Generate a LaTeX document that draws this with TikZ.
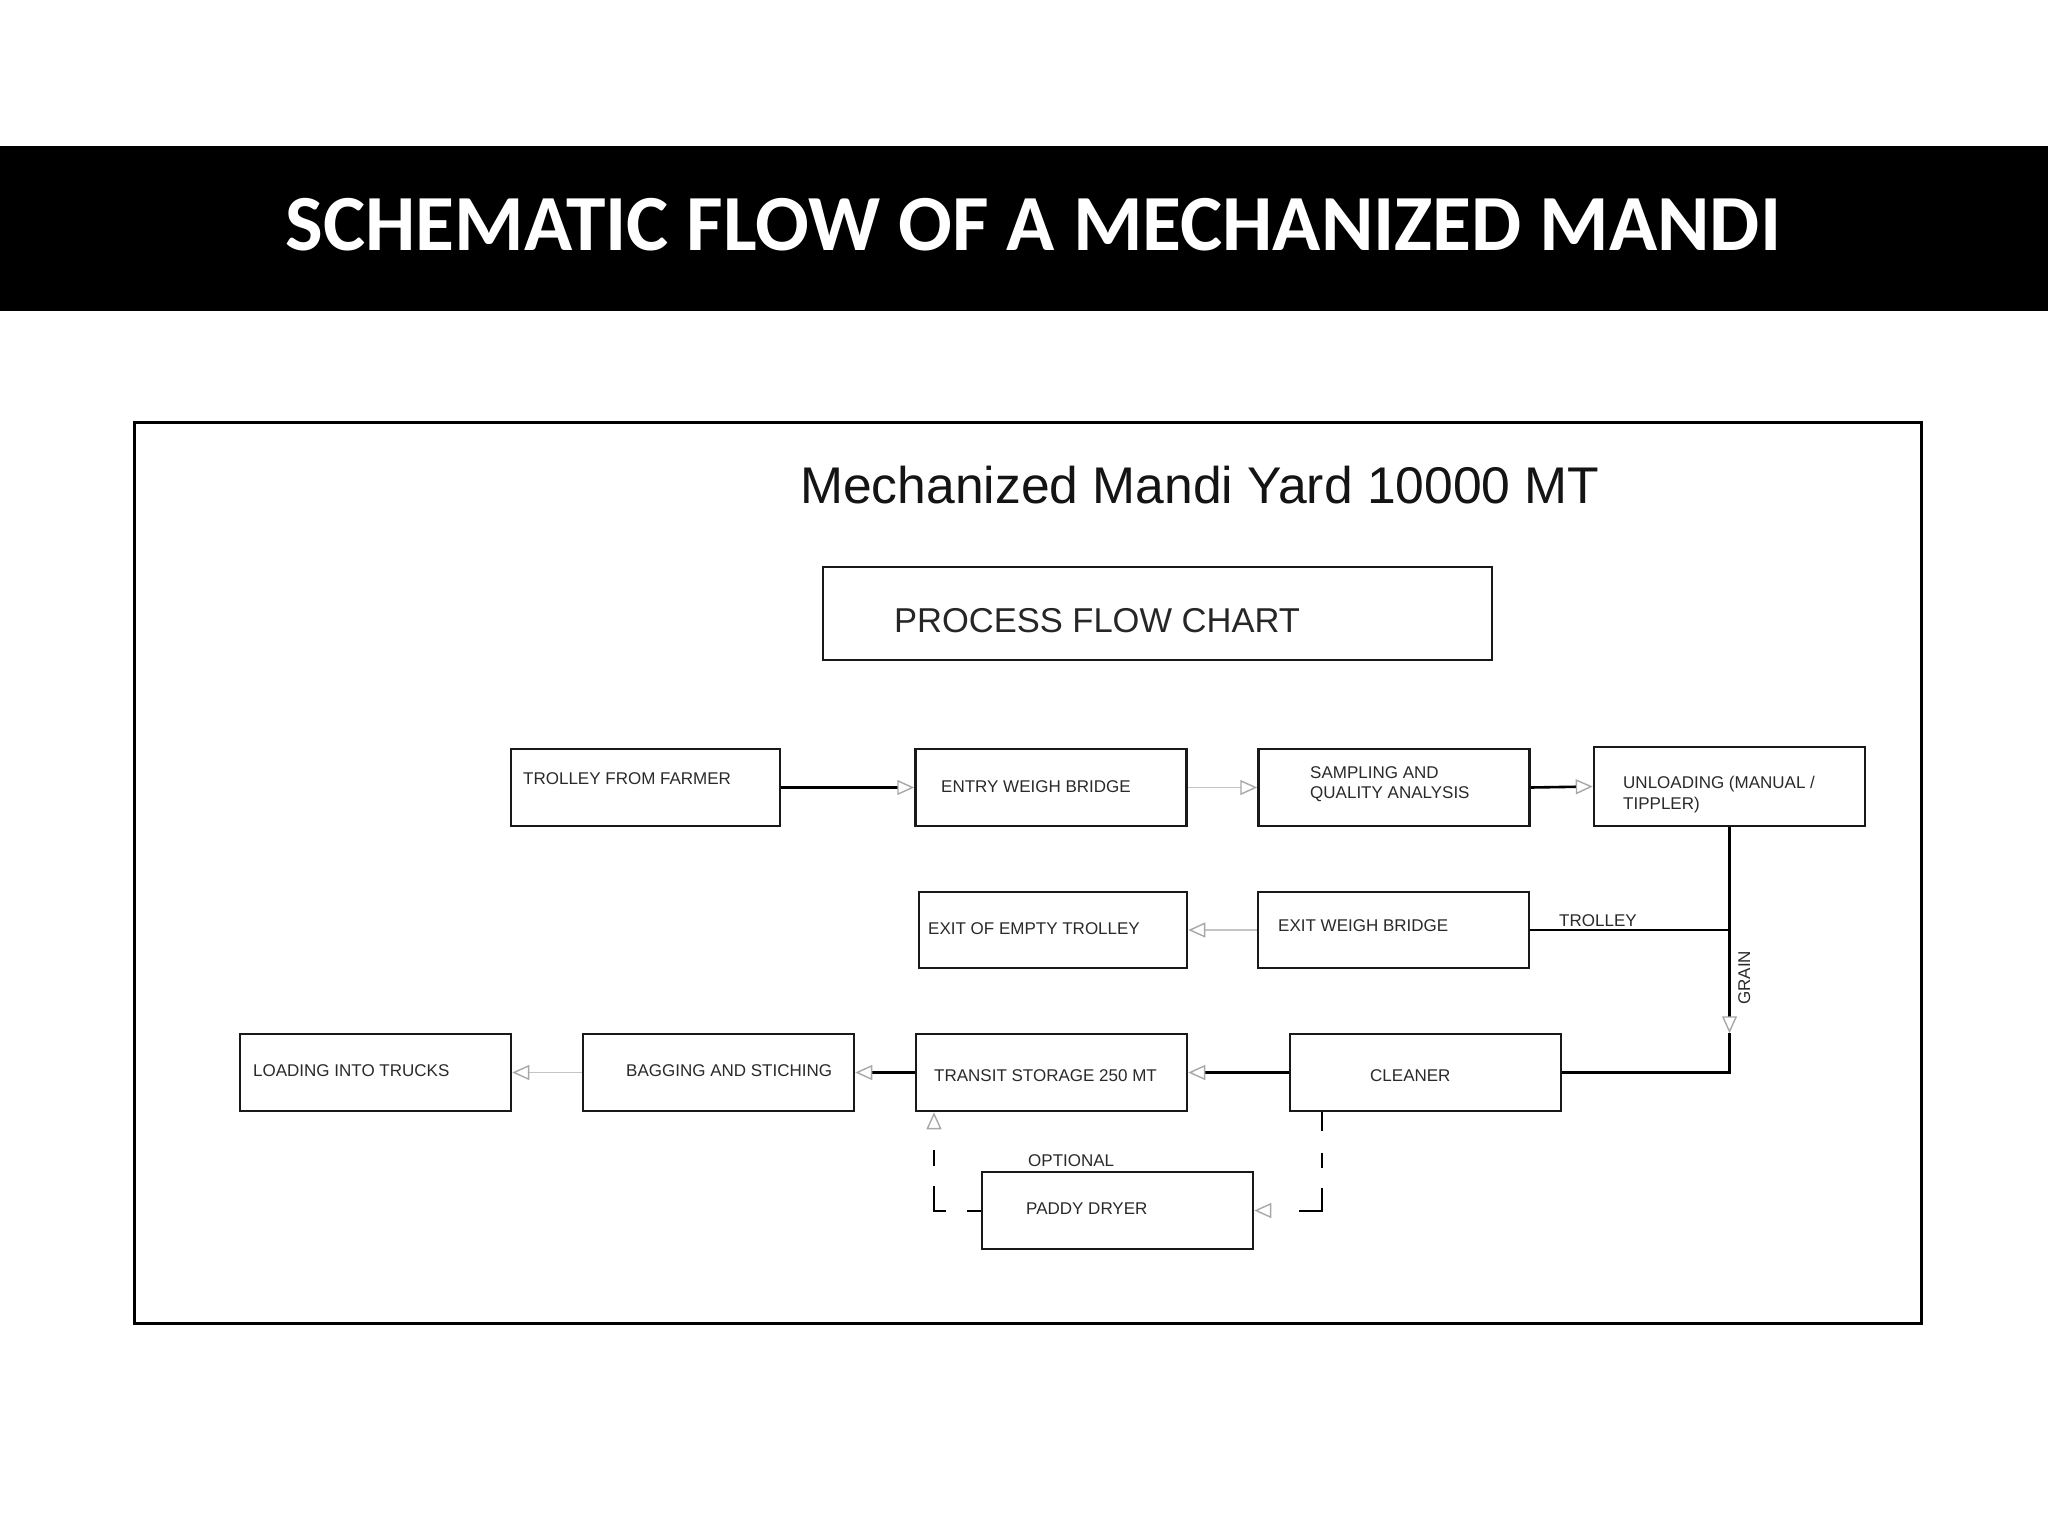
\documentclass[tikz,border=0pt]{standalone}
\usepackage{fontspec}
\setmainfont{Liberation Sans}
\newfontfamily\titlefont{Carlito}
\usetikzlibrary{arrows.meta}
\definecolor{lightln}{HTML}{C4C4C4}
\definecolor{tipgray}{HTML}{A8A8A8}
\definecolor{lbltext}{HTML}{2A2A2A}
\tikzset{
  procbox/.style={draw=black!90, line width=2.5pt, minimum width=271pt, minimum height=77pt, inner sep=0pt},
  lbl/.style={font=\fontsize{17}{20}\selectfont, text=lbltext, inner sep=0pt, anchor=base west},
  blk/.style={draw=black, line width=2.6pt},
  lgt/.style={draw=lightln, line width=1.8pt},
  garrow/.style={-{Triangle[open, length=17pt, width=15pt, line width=1.4pt, color=tipgray]}},
  dsh/.style={draw=black, line width=2pt}
}
\begin{document}
\begin{tikzpicture}[x=1pt,y=-1pt]
\useasboundingbox (0,0) rectangle (2048,1536);
\fill[white] (0,0) rectangle (2048,1536);
% title bar
\fill[black] (0,146) rectangle (2048,311);
\node[font=\titlefont\bfseries\fontsize{79.6}{90}\selectfont, text=white, anchor=base, inner sep=0pt] (title) at (1033.5,250) {SCHEMATIC FLOW OF A MECHANIZED MANDI};
% frame
\node[draw=black, line width=2.6pt, minimum width=1787pt, minimum height=901pt, inner sep=0pt, anchor=north west] (frame) at (133,421) {};
\node[font=\fontsize{51.6}{60}\selectfont, text=black!92, anchor=base west, inner sep=0pt] (yard) at (800,503) {Mechanized Mandi Yard 10000 MT};
\node[draw=black!90, line width=2.2pt, minimum width=669pt, minimum height=93pt, inner sep=0pt, anchor=north west] (pfc) at (822,566) {};
\node[font=\fontsize{34.5}{40}\selectfont, text=black!85, anchor=base west, inner sep=0pt] (pfct) at (894,632) {PROCESS FLOW CHART};
% boxes
\node[procbox, minimum width=269pt] (tff) at (645.5,787.5) {};
\node[procbox] (ewb) at (1051,787.5) {};
\node[procbox] (saq) at (1394,787.5) {};
\node[procbox, minimum height=79pt] (unl) at (1729.5,786.5) {};
\node[procbox, minimum width=268pt, minimum height=76pt] (eet) at (1053,930) {};
\node[procbox, minimum height=76pt] (exb) at (1393.5,930) {};
\node[procbox] (lit) at (375.5,1072.5) {};
\node[procbox] (bas) at (718.5,1072.5) {};
\node[procbox] (tsg) at (1051.5,1072.5) {};
\node[procbox] (cln) at (1425.5,1072.5) {};
\node[procbox] (pdr) at (1117.5,1210.5) {};
% labels
\node[lbl] (t1) at (523,784) {TROLLEY FROM FARMER};
\node[lbl] (t2) at (941,792) {ENTRY WEIGH BRIDGE};
\node[lbl] (t3a) at (1310,778) {SAMPLING AND};
\node[lbl] (t3b) at (1310,798) {QUALITY ANALYSIS};
\node[lbl] (t4a) at (1623,788) {UNLOADING (MANUAL /};
\node[lbl] (t4b) at (1623,809) {TIPPLER)};
\node[lbl] (t5) at (928,934) {EXIT OF EMPTY TROLLEY};
\node[lbl] (t6) at (1278,931) {EXIT WEIGH BRIDGE};
\node[lbl] (t7) at (1559,926) {TROLLEY};
\node[lbl, rotate=90] (t8) at (1750,1005) {GRAIN};
\node[lbl] (t9) at (253,1076) {LOADING INTO TRUCKS};
\node[lbl] (t10) at (626,1076) {BAGGING AND STICHING};
\node[lbl] (t11) at (934,1081) {TRANSIT STORAGE 250 MT};
\node[lbl] (t12) at (1370,1081) {CLEANER};
\node[lbl] (t13) at (1028,1166) {OPTIONAL};
\node[lbl] (t14) at (1026,1214.5) {PADDY DRYER};
% connectors row 1
\draw[blk, garrow] (tff.east) -- (ewb.west);
\draw[lgt, garrow] (ewb.east) -- (saq.west);
\draw[blk, garrow] (saq.east) -- (unl.west);
% unloading split
\path (unl.south) ++(0,206) coordinate (g1);
\draw[blk, garrow] (unl.south) -- (g1);
\draw[blk] (g1) -- (g1 |- cln.east) -- (cln.east);
\draw[blk] (unl.south |- exb.east) -- (exb.east);
\draw[lgt, garrow] (exb.west) -- (eet.east);
% row 3
\draw[blk, garrow] (cln.west) -- (tsg.east);
\draw[blk, garrow] (tsg.west) -- (bas.east);
\draw[lgt, garrow] (bas.west) -- (lit.east);
% optional dryer loop
\coordinate (d1) at (1322,1111.5);
\coordinate (d2) at (1322,1210.5);
\coordinate (d3) at (934,1210.5);
\draw[dsh, garrow, dash pattern=on 19pt off 22pt on 15pt off 20pt on 46pt off 300pt] (d1) -- (d2) -- (pdr.east);
\draw[dsh, garrow, dash pattern=on 14pt off 21pt on 36pt off 20pt on 16pt off 300pt] (pdr.west) -- (d3) -- (d3 |- tsg.south);
\end{tikzpicture}
\end{document}
